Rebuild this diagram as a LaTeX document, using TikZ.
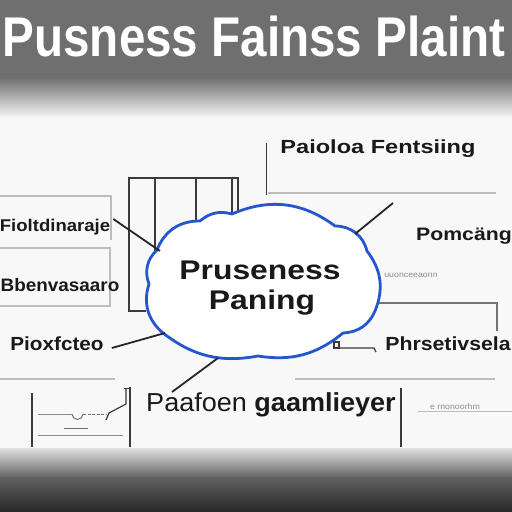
\documentclass[tikz,border=0pt]{standalone}
\usepackage{fontspec}
\setmainfont{Liberation Sans}
\definecolor{bandgray}{HTML}{6F6F6F}
\definecolor{paper}{HTML}{F8F8F8}
\definecolor{cloudblue}{HTML}{2456D0}
\definecolor{linegray}{HTML}{BDBDBD}
\definecolor{darkline}{HTML}{3A3A3A}
\newcommand{\myxs}[2]{\scalebox{#1}[1]{#2}}
\begin{document}
\begin{tikzpicture}[x=1pt,y=-1pt,
  thinline/.style={draw=linegray, line width=1.3pt},
  darkrule/.style={draw=darkline, line width=1.5pt},
  conn/.style={draw=black!85, line width=1.8pt},
  cloudline/.style={draw=cloudblue, line width=2.8pt, fill=white, line join=round},
  lbl/.style={inner sep=0pt, text=black!90, font=\bfseries\fontsize{#1}{#1}\selectfont},
  lbl/.default=17,
  faint/.style={inner sep=0pt, text=black!45, font=\fontsize{8}{8}\selectfont},
]
\useasboundingbox (0,0) rectangle (512,512);
% background and bands
\fill[paper] (0,0) rectangle (512,512);
\fill[bandgray] (0,0) rectangle (512,78);
\shade[top color=bandgray, bottom color=paper] (0,77.5) rectangle (512,118);
\shade[top color=black!12, bottom color=black!62] (0,448) rectangle (512,478);
\shade[top color=black!62, bottom color=black!85] (0,477.5) rectangle (512,512);
\node[inner sep=0pt, text=white, font=\bfseries\fontsize{56}{60}\selectfont] (title) at (254,36) {\myxs{0.85}{Pusness Fainss Plaint}};

% light rules
\draw[thinline] (0,196) -- (111,196) -- (111,240);
\draw[thinline] (0,248) -- (110,248) -- (110,306) -- (0,306);
\draw[thinline] (0,379) -- (115,379);
\draw[thinline] (268,193) -- (496,193);
\draw[darkrule, line width=1pt] (266,143) -- (266,195);
\draw[thinline, draw=black!55] (378,303) -- (497,303) -- (497,331);
\draw[thinline] (295,379) -- (495,379);
\draw[darkrule] (401,388) -- (401,447);

% tall box behind the cloud
\draw[darkrule] (129,312) -- (129,178) -- (238,178) -- (238,225);
\draw[darkrule] (155,178) -- (155,260);
\draw[darkrule] (196,178) -- (196,260);
\draw[darkrule] (232,178) -- (232,225);
\draw[darkrule] (129,311) -- (146,311);

% small sketch bottom left
\draw[darkrule] (32,393) -- (32,447);
\draw[darkrule] (130,387) -- (130,447);
\draw[darkrule, line width=1pt] (124,388) -- (130,388);
\draw[thinline, draw=black!45, line width=1pt] (38,414) -- (72,414);
\draw[thinline, draw=black!45, line width=1pt] (38,435) -- (123,435);
\draw[thinline, draw=black!55, line width=1pt] (64,428) -- (88,428);
\draw[draw=black!55, line width=1pt] (72,414) arc[start angle=180, end angle=0, radius=5.5];
\draw[draw=black!55, line width=1pt, dash pattern=on 3pt off 1.5pt] (83,414) -- (106,414);
\draw[darkrule, line width=1.2pt] (106,420) -- (109,413) -- (126,404) -- (126,388);

% connector end points
\coordinate (e1) at (160,251);
\coordinate (e2) at (165,333);
\coordinate (e3) at (218,358);
\coordinate (e4) at (355,234);
\coordinate (f4) at (393,203);
\coordinate (s3) at (172,392);

% cloud (scalloped outline)
\coordinate (d1) at (157,250);
\coordinate (d2) at (200,221);
\coordinate (d3) at (232,214);
\coordinate (d4) at (335,226);
\coordinate (d5) at (367,251);
\coordinate (d6) at (375,311);
\coordinate (d7) at (343,333);
\coordinate (d8) at (258,356);
\coordinate (d9) at (163,333);
\coordinate (d10) at (149,284);
\draw[cloudline] (d1) to[bend left=35] (d2) to[bend left=28] (d3)
  to[bend left=30] (d4) to[bend left=38] (d5) to[bend left=30] (d6)
  to[bend left=32] (d7) to[bend left=24] (d8) to[bend left=24] (d9)
  to[bend left=34] (d10) to[bend left=34] (d1) -- cycle;
\coordinate (cloudc) at (262,285);
\node[lbl=27] (ctext1) at (260,270) {\myxs{1.18}{Pruseness}};
\node[lbl=27] (ctext2) at (262,303) {\myxs{1.18}{Paning}};

% labels
\node[lbl=19] (l1) at (378,149) {\myxs{1.24}{Paioloa Fentsiing}};
\node[lbl=17] (l2) at (55,227) {\myxs{1.09}{Fioltdinaraje}};
\node[lbl=18] (l3) at (60,285) {\myxs{1.05}{Bbenvasaaro}};
\node[lbl=19] (l4) at (57,344) {\myxs{1.09}{Pioxfcteo}};
\node[lbl=18] (l5) at (464,236) {\myxs{1.18}{Pomcäng}};
\node[lbl=19] (l6) at (448,344) {\myxs{1.12}{Phrsetivsela}};
\node[lbl=26] (l7) at (271,405) {\myxs{1.04}{{\mdseries Paafoen} gaamlieyer}};
\node[faint] (l8) at (411,275) {\myxs{1.1}{uuonceeaonn}};
\node[faint] (l9) at (455,407) {\myxs{1.1}{e rnonoorhm}};
\draw[thinline, line width=0.8pt] (418,411) -- (512,411);

\draw[conn] (l2.east) ++(3,-8) coordinate (s1) -- (e1);
\draw[conn] (l4.east) ++(8,4) coordinate (s2) -- (e2);
\draw[conn] (s3) -- (e3);
\draw[conn] (e4) -- (f4);
% bracket right
\draw[darkrule, line width=1.3pt] (334,342) rectangle (339,348);
\draw[darkrule, line width=1.3pt] (339,348) -- (374,348) -- (376,352);
\end{tikzpicture}
\end{document}
